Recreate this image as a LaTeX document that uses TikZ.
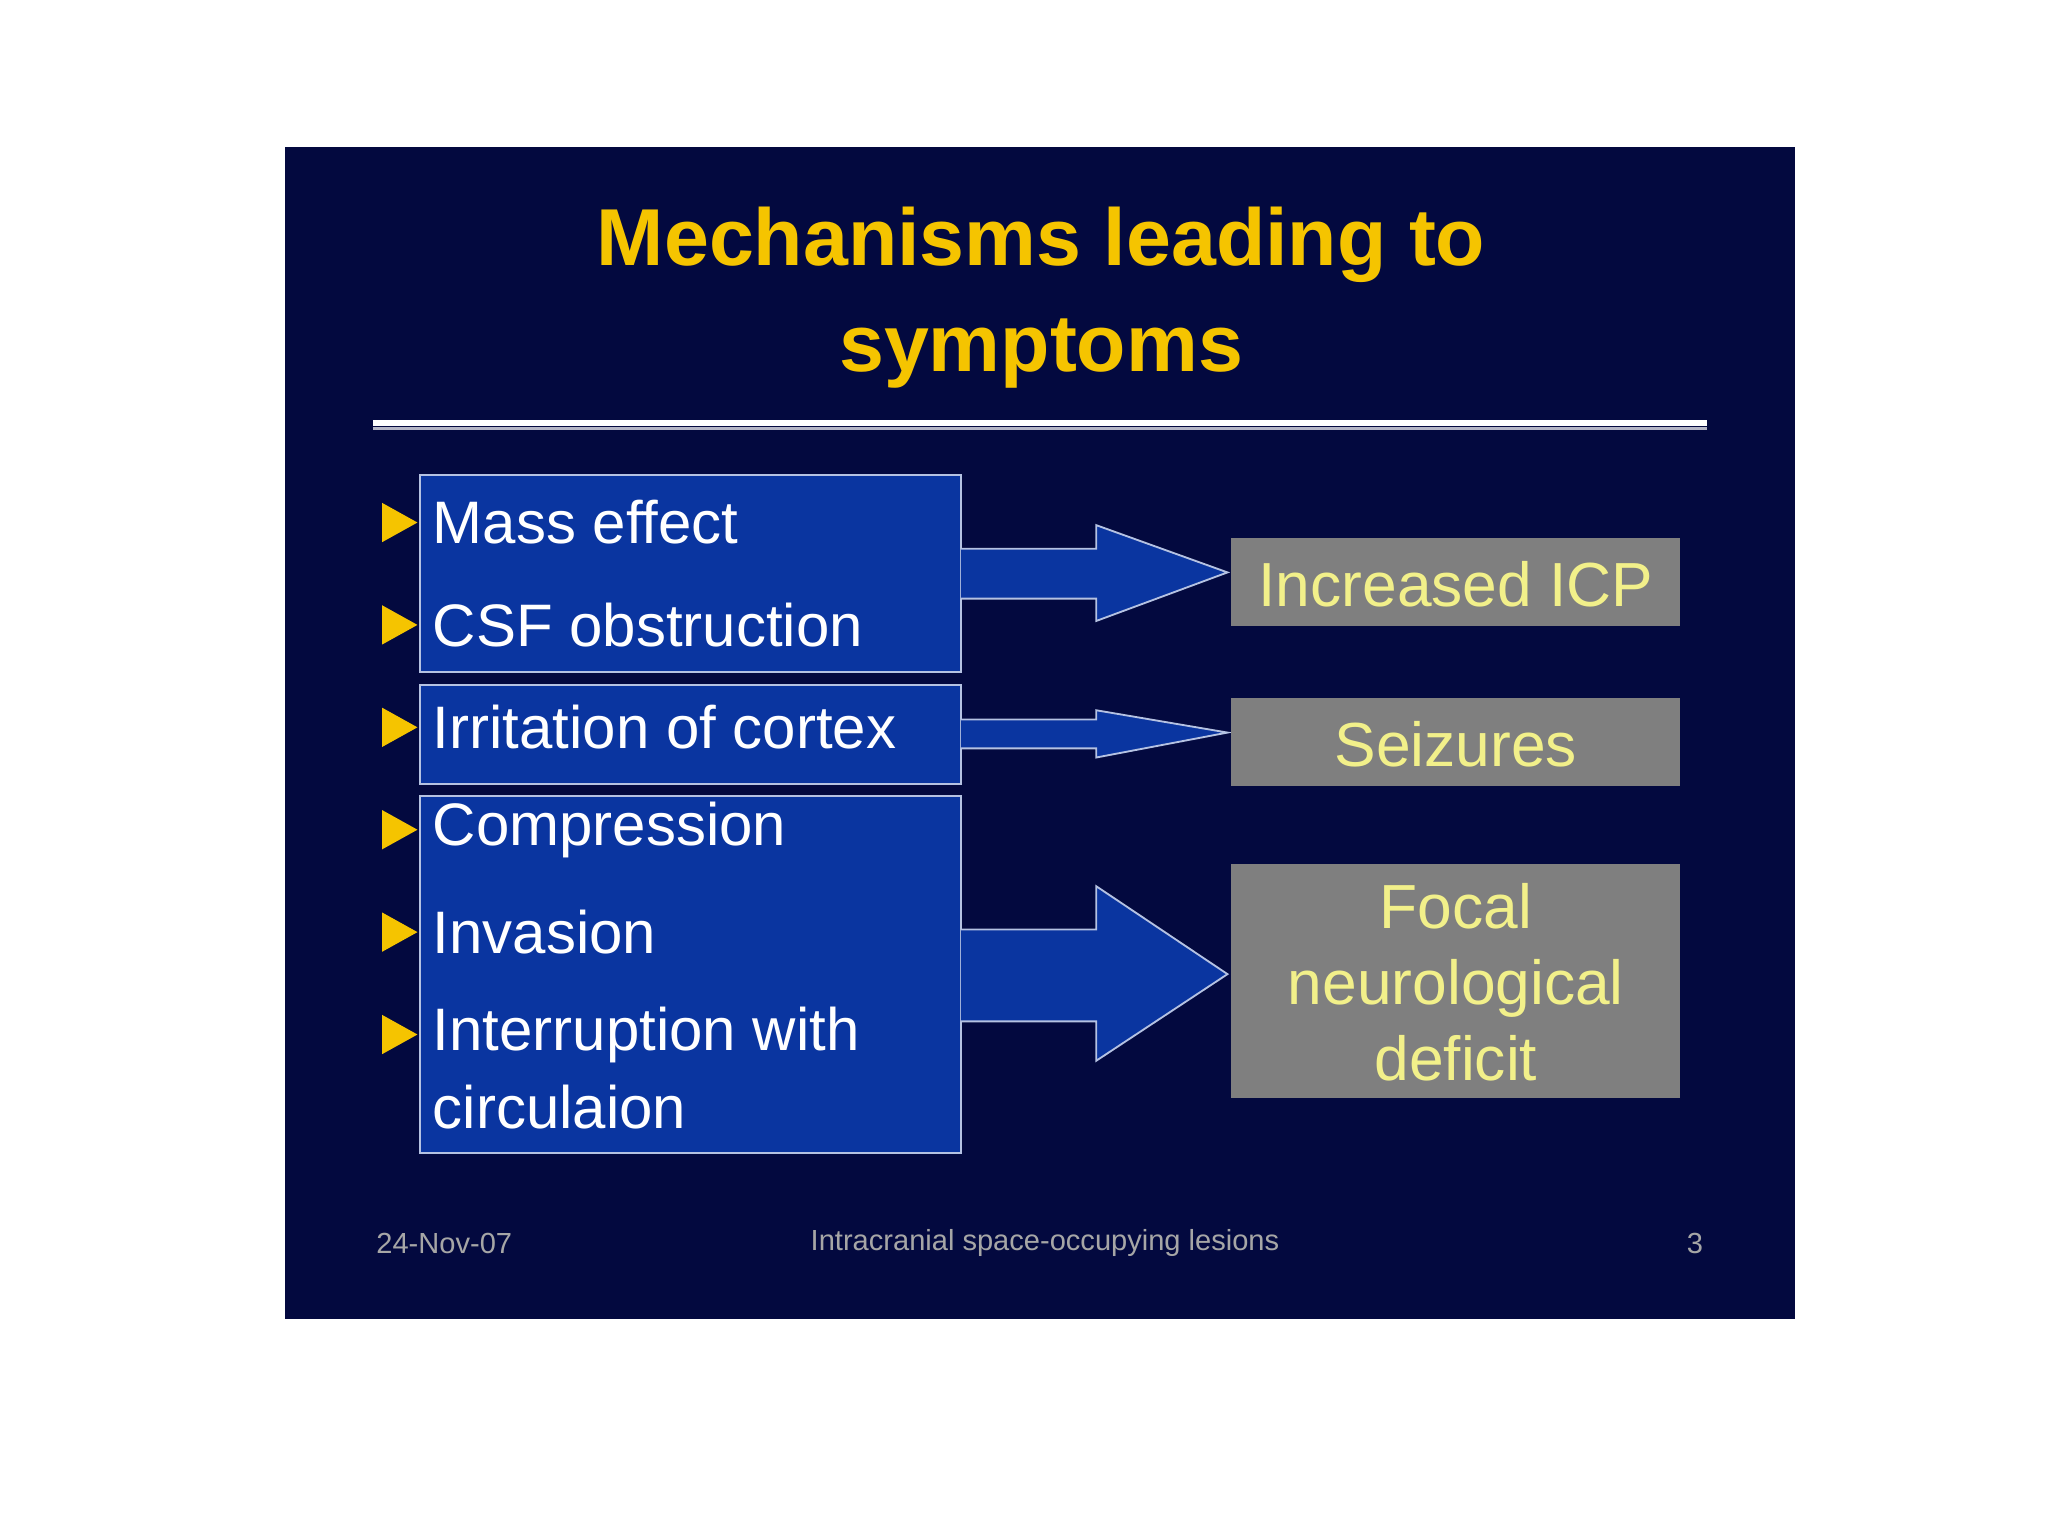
\documentclass[tikz,border=0pt]{standalone}
\usepackage{fontspec}
\setmainfont{Liberation Sans}
\begin{document}
\begin{tikzpicture}[x=0.1mm,y=-0.1mm]
\definecolor{navy}{HTML}{03093F}
\definecolor{bblue}{HTML}{0A35A0}
\definecolor{ttl}{HTML}{F5C400}
\definecolor{gbox}{HTML}{7F7F7F}
\definecolor{gtxt}{HTML}{F2F08A}
\definecolor{tri}{HTML}{F5C400}
\tikzset{
 bluebox/.style={fill=bblue,draw=white!70!bblue,line width=0.4pt},
 graybox/.style={fill=gbox,draw=none,text=gtxt,font=\fontsize{13.5}{17}\selectfont,align=center,inner sep=0pt},
 btxt/.style={text=white,font=\fontsize{13}{17}\selectfont,anchor=west,inner sep=0pt,align=left},
 bul/.style={fill=tri,draw=none},
 foot/.style={text=gray!70,font=\fontsize{6.3}{8}\selectfont,inner sep=0pt}
}
\useasboundingbox (0,0) rectangle (1560,1170);
\fill[white] (0,0) rectangle (1560,1170);
\fill[navy] (217,112) rectangle (1367,1005);
\node[text=ttl,font=\bfseries\fontsize{17.5}{23}\selectfont,align=center] (title) at (793,227) {Mechanisms leading to\\symptoms};
\draw[white,line width=1.2pt] (284,322) -- (1300,322);
\draw[white!70!navy,line width=0.6pt] (284,326.5) -- (1300,326.5);
% blue boxes
\draw[bluebox] (320,362) rectangle (732,512);
\draw[bluebox] (320,522) rectangle (732,597);
\draw[bluebox] (320,606) rectangle (732,878);
% arrows
\draw[bluebox] (732,418) -- (835,418) -- (835,400) -- (935,436) -- (835,473) -- (835,456) -- (732,456);
\draw[bluebox] (732,548) -- (835,548) -- (835,541) -- (935,558) -- (835,577) -- (835,570) -- (732,570);
\draw[bluebox] (732,708) -- (835,708) -- (835,675) -- (935,742) -- (835,808) -- (835,778) -- (732,778);
% gray boxes
\fill[gbox] (938,410) rectangle (1280,477);
\node[graybox] (icp) at (1109,445) {Increased ICP};
\fill[gbox] (938,532) rectangle (1280,599);
\node[graybox] (sz) at (1109,567) {Seizures};
\fill[gbox] (938,658) rectangle (1280,836);
\node[graybox,font=\fontsize{13.5}{16.5}\selectfont] (fnd) at (1109,748) {Focal\\neurological\\deficit};
% bullets and texts
\foreach \y/\t [count=\i] in {398/Mass effect,476/CSF obstruction,554/Irritation of cortex,632/Compression,710/Invasion,788/Interruption with}{
 \fill[bul] (291,\y-15) -- (318,\y) -- (291,\y+15) -- cycle;
 \node[btxt] (b\i) at (329,\y) {\t};
}
\node[btxt] (b7) at (329,843) {circulaion};
% footer
\node[foot,anchor=west] (date) at (286,947) {24-Nov-07};
\node[foot] (ft) at (796,947) {Intracranial space-occupying lesions};
\node[foot,anchor=east] (pg) at (1298,947) {3};
\end{tikzpicture}
\end{document}
